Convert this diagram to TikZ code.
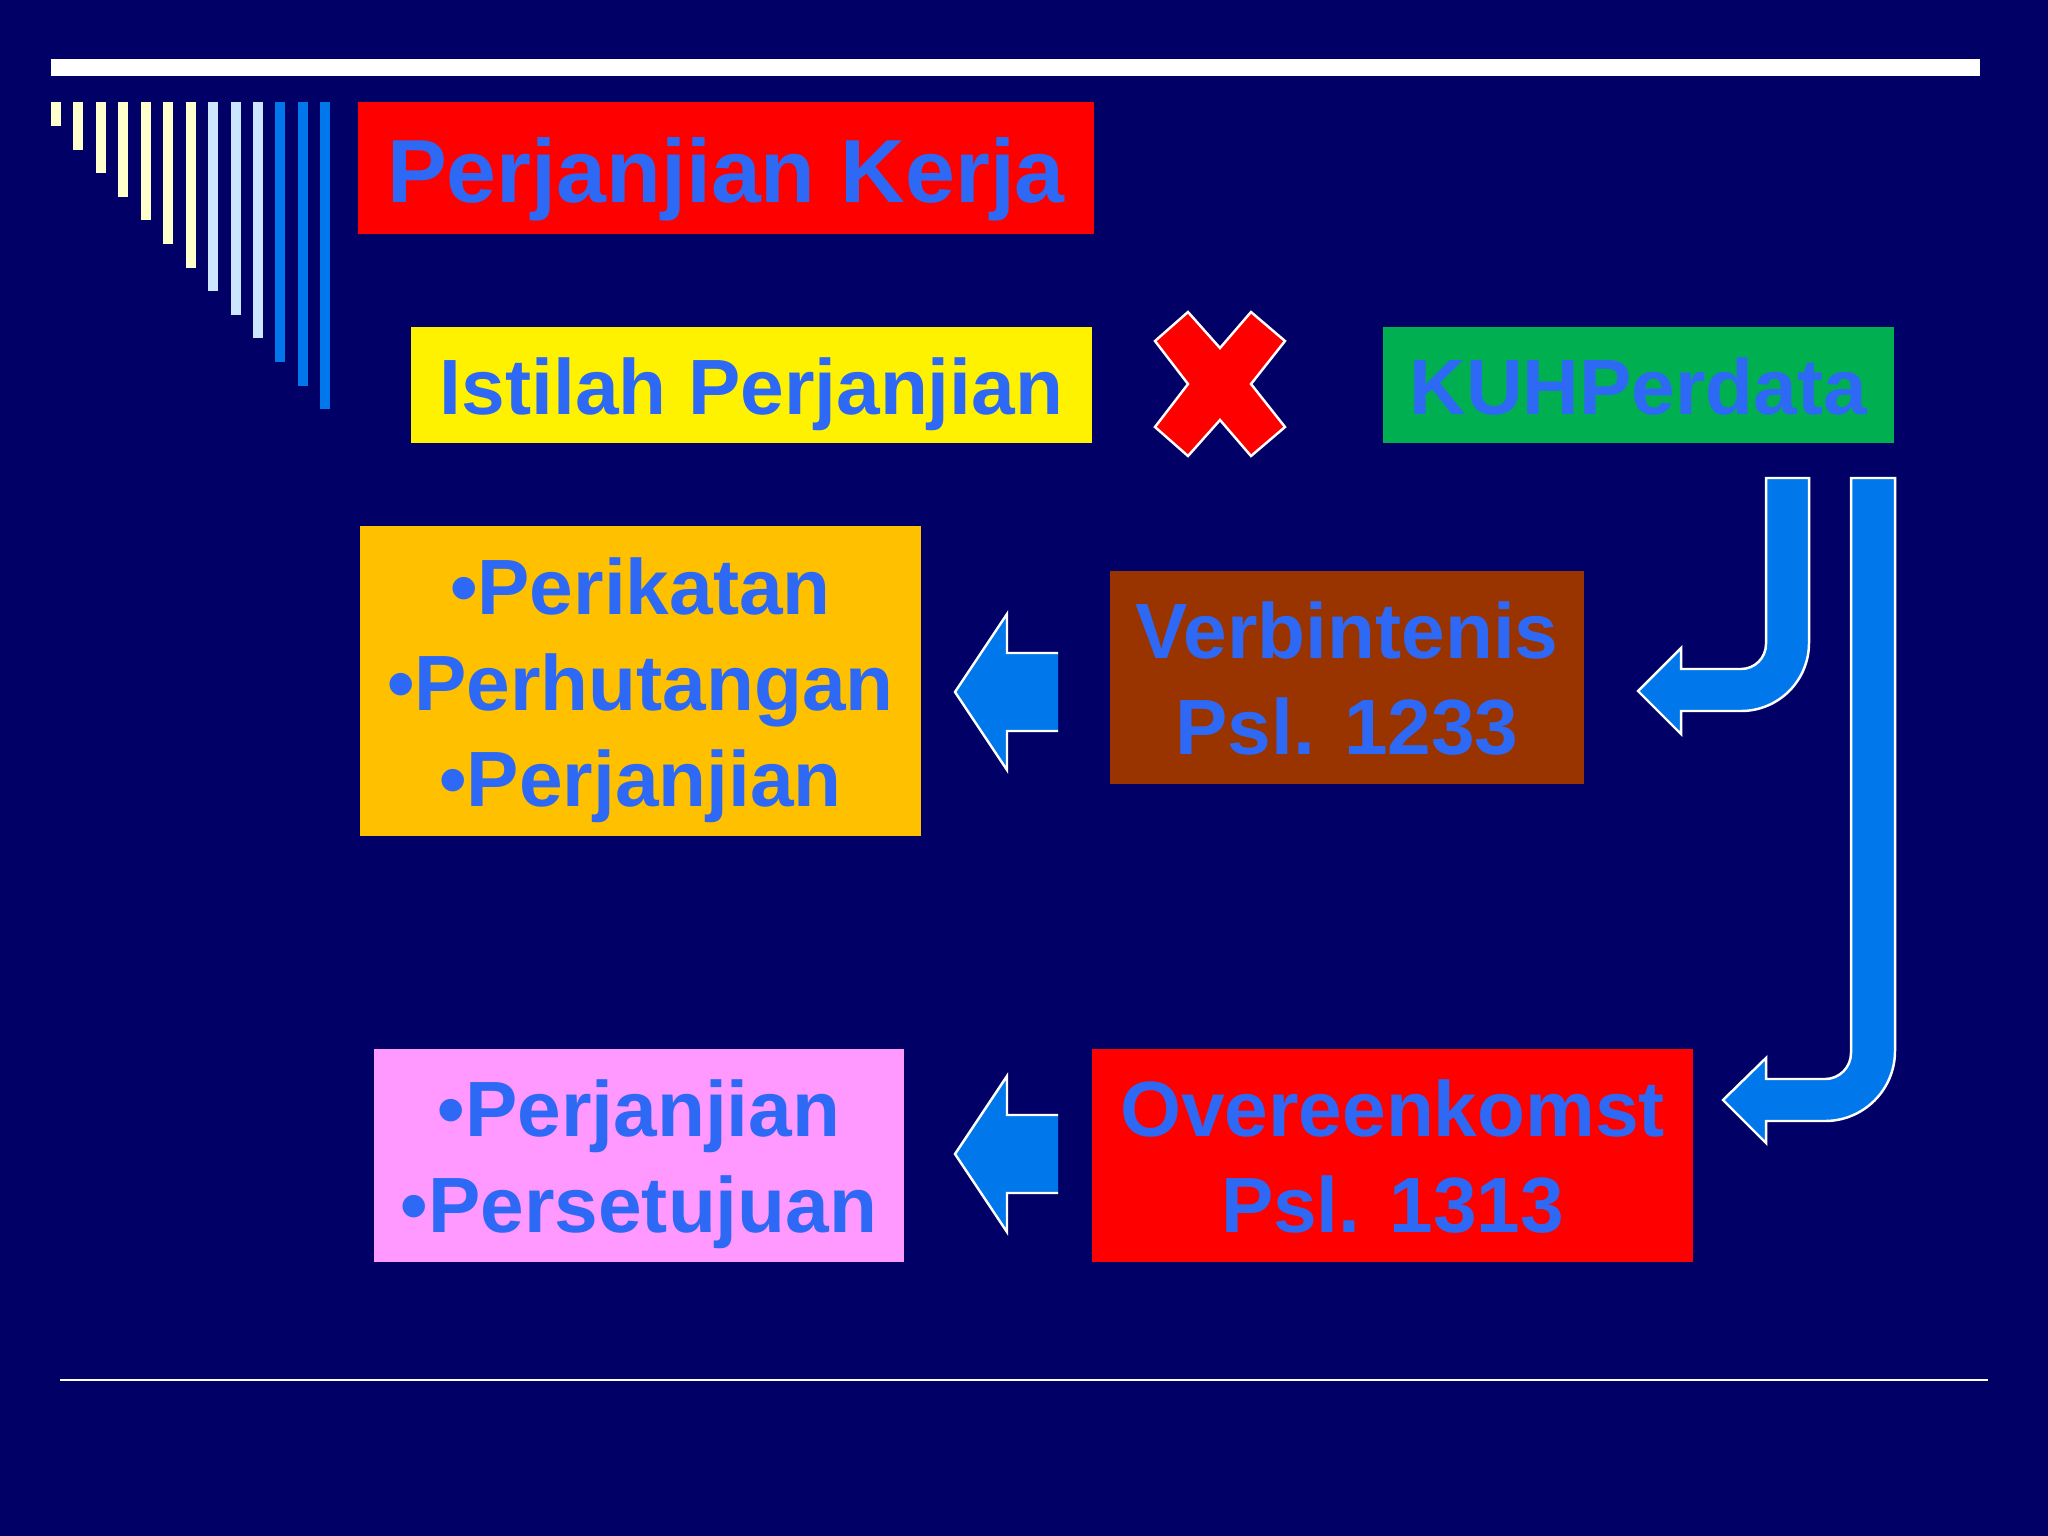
\documentclass[tikz,border=0pt]{standalone}
\usepackage{fontspec}
\usepackage{tikz}
\usetikzlibrary{positioning,calc}
\newfontfamily\slidefont{Liberation Sans}
\definecolor{slidebg}{HTML}{000066}
\definecolor{panah}{RGB}{0,120,235}
\definecolor{tulisan}{RGB}{45,105,245}
\definecolor{krem}{HTML}{FFFFCC}
\definecolor{birumuda}{HTML}{CCE6FF}
\definecolor{hijau}{HTML}{00B050}
\definecolor{oranye}{HTML}{FFC000}
\definecolor{coklat}{HTML}{993300}
\definecolor{merahmuda}{HTML}{FF99FF}
\newcommand{\atas}{\rule{0pt}{0.76cm}}
\newcommand{\bawah}{\rule[-0.18cm]{0pt}{0.18cm}}
\tikzset{kotak/.style={inner sep=0pt, align=center, text=tulisan,
    font=\slidefont\bfseries\fontsize{22.3}{27.3}\selectfont},
  blok/.style={fill=panah, draw=white, line width=0.7pt}}

\begin{document}
\begin{tikzpicture}[x=0.01cm, y=-0.01cm]
    % latar
    \fill[slidebg] (0,0) rectangle (2048,1536);
    \fill[white] (51,59) rectangle (1980,76);
    \draw[white, line width=0.75pt] (60,1380) -- (1988,1380);
    \foreach \warna [count=\i from 0] in {krem,krem,krem,krem,krem,krem,krem,birumuda,birumuda,birumuda,panah,panah,panah}
      \fill[\warna] (51+22.44*\i,102) rectangle ++(10,24+23.6*\i);

    \node[kotak, fill=red, minimum width=7.36cm, minimum height=1.32cm,
          font=\slidefont\bfseries\fontsize{25.5}{30}\selectfont] (judul) at (726,168)
          {\rule[-0.2cm]{0pt}{1.08cm}Perjanjian Kerja};
    \node[kotak, fill=yellow, minimum width=6.81cm, minimum height=1.16cm] (istilah) at (751.5,385) {\atas Istilah Perjanjian\bawah};
    \node[kotak, fill=hijau, minimum width=5.11cm, minimum height=1.16cm] (kuh) at (1638.5,385) {\atas KUHPerdata\bawah};
    \node[kotak, fill=oranye, minimum width=5.61cm, minimum height=3.10cm] (makna) at (640.5,681)
          {\atas•Perikatan\\•Perhutangan\\•Perjanjian\bawah};
    \node[kotak, fill=coklat, minimum width=4.74cm, minimum height=2.13cm] (verb) at (1347,677.5) {\atas Verbintenis\\Psl. 1233\bawah};
    \node[kotak, fill=red, minimum width=6.01cm, minimum height=2.13cm] (over) at (1392.5,1155.5) {\atas Overeenkomst\\Psl. 1313\bawah};
    \node[kotak, fill=merahmuda, minimum width=5.30cm, minimum height=2.13cm] (setuju) at (639,1155.5) {\atas•Perjanjian\\•Persetujuan\bawah};

    % tanda silang
    \draw[fill=red, draw=white, line width=0.7pt] (1155,341) -- (1188,312) -- (1220,348) -- (1251,312) -- (1285,341) -- (1251,384)
      -- (1285,427) -- (1251,456) -- (1220,420) -- (1188,456) -- (1155,427) -- (1188,384) -- cycle;

    % panah
    \coordinate (ujungA) at (955,692);
    \coordinate (ujungB) at (955,1154);
    \coordinate (ujungC) at (1638,691);
    \coordinate (ujungD) at (1723,1100);
    \foreach \t in {ujungA,ujungB}
      \path[blok] ($(\t)+(103,-39)$) -- ++(-51,0) -- ++(0,-39) -- (\t) -- ++(52,78) -- ++(0,-39) -- ++(51,0);
    \path[blok] (1766,478) -- (1809,478) -- (1809,643) arc[start angle=0, end angle=90, radius=68] -- (1681,711) -- (1681,734)
      -- (ujungC) -- (1681,648) -- (1681,669) -- (1741,669) arc[start angle=90, end angle=0, radius=25] -- cycle;
    \path[blok] (1851,478) -- (1895,478) -- (1895,1051) arc[start angle=0, end angle=90, radius=70] -- (1766,1121) -- (1766,1143)
      -- (ujungD) -- (1766,1058) -- (1766,1079) -- (1825,1079) arc[start angle=90, end angle=0, radius=26] -- cycle;
  \end{tikzpicture}
\end{document}
